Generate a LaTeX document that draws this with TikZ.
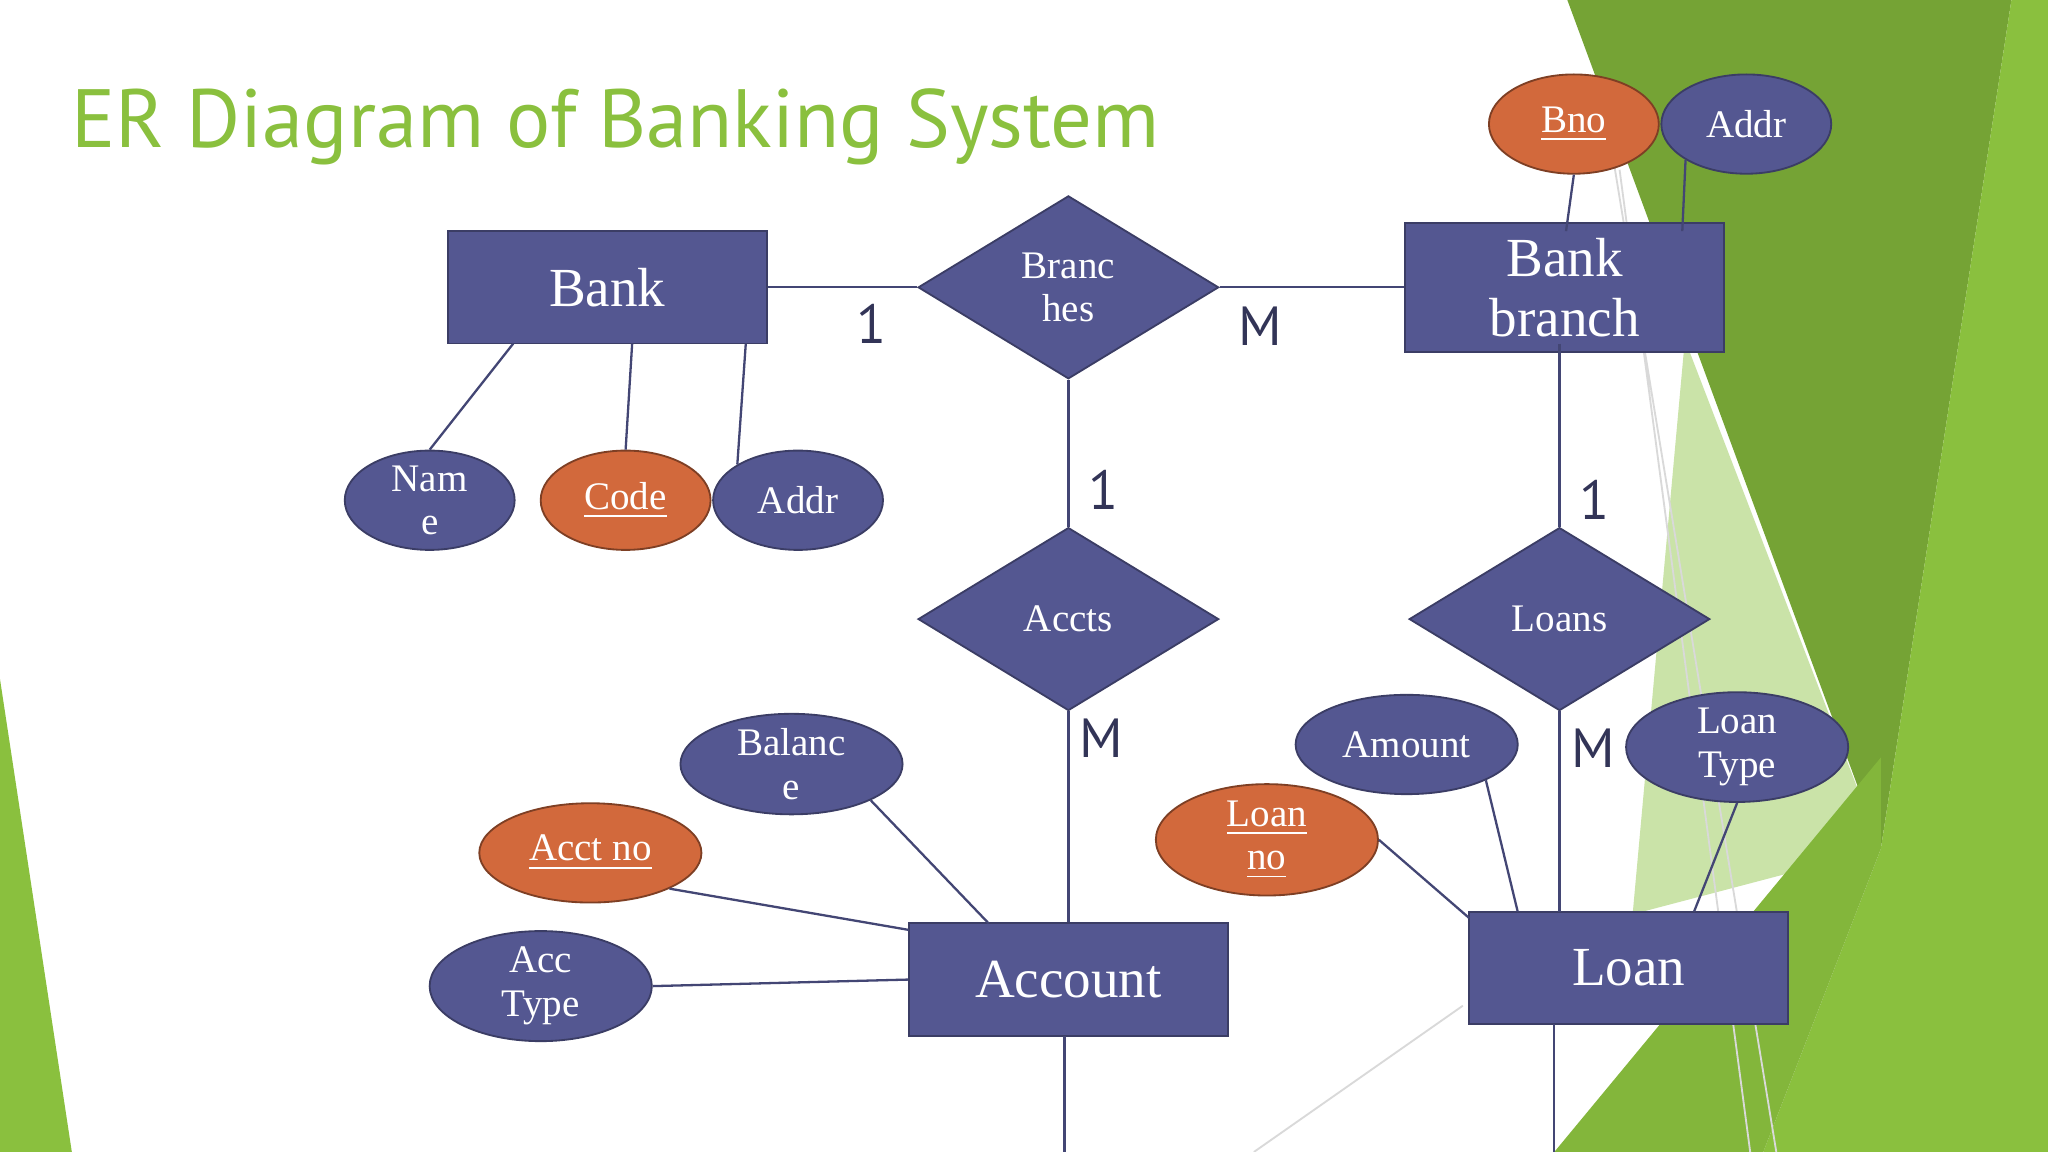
\documentclass[tikz,border=0pt]{standalone}
\usepackage{fontspec}
\setmainfont{Liberation Serif}
\newfontfamily\sansf{PT Sans}
\usetikzlibrary{shapes.geometric}
\definecolor{ent}{HTML}{545791}
\definecolor{key}{HTML}{D2693C}
\definecolor{ttl}{HTML}{8AC03E}
\begin{document}
\begin{tikzpicture}[x=0.01cm,y=-0.01cm,
 ent/.style={rectangle,fill=ent,draw=ent!70!black,minimum width=2.44cm,minimum height=0.86cm,text=white,font=\fontsize{12}{13}\selectfont,align=center},
 rel/.style={diamond,fill=ent,draw=ent!70!black,minimum width=2.3cm,minimum height=1.4cm,inner sep=0pt,aspect=1.64,text=white,font=\fontsize{8.5}{9.5}\selectfont,align=center},
 att/.style={ellipse,fill=ent,draw=ent!70!black,minimum width=1.3cm,minimum height=0.76cm,inner sep=0pt,text=white,font=\fontsize{8.5}{9.5}\selectfont,align=center},
 wide/.style={minimum width=1.7cm},
 keyatt/.style={att,fill=key,draw=key!60!black},
 card/.style={font=\sansf\fontsize{12}{12}\selectfont,text=ent!60!black},
 ln/.style={draw=ent!80!black,line width=0.5pt}]
\useasboundingbox (0,0) rectangle (1568,882);
\fill[white] (0,0) rectangle (1568,882);
% background
\fill[ttl!85!black] (1200,0)--(1540,0)--(1440,650)--cycle;
\fill[ttl] (1540,0)--(1568,0)--(1568,882)--(1350,882)--(1440,650)--cycle;
\fill[ttl!45] (1290,260)--(1440,650)--(1250,700)--cycle;
\fill[ttl!95!black] (1190,882)--(1440,580)--(1440,650)--(1350,882)--cycle;
\fill[ttl] (0,520)--(55,882)--(0,882)--cycle;
\draw[gray!30] (1225,60)--(1360,882) (1240,130)--(1340,882) (1120,770)--(960,882);
% title
\node[anchor=base west,font=\sansf\fontsize{18}{18}\selectfont,text=ttl] (title) at (42,113) {ER Diagram of Banking System};
% nodes
\node[ent] (bank) at (465,220) {Bank};
\node[rel] (br) at (818,220) {Branc\\hes};
\node[ent] (bb) at (1198,220) {Bank\\branch};
\node[keyatt] (bno) at (1205,95) {\underline{Bno}};
\node[att] (baddr) at (1337,95) {Addr};
\node[att] (nam) at (329,383) {Nam\\e};
\node[keyatt] (code) at (479,383) {\underline{Code}};
\node[att] (addr) at (611,383) {Addr};
\node[rel] (accts) at (818,474) {Accts};
\node[rel] (loans) at (1194,474) {Loans};
\node[att,wide] (bal) at (606,585) {Balanc\\e};
\node[keyatt,wide] (acno) at (452,653) {\underline{Acct no}};
\node[att,wide] (acty) at (414,755) {Acc\\Type};
\node[ent] (acc) at (818,750) {Account};
\node[att,wide] (amt) at (1077,570) {Amount};
\node[keyatt,wide] (lno) at (970,643) {\underline{Loan}\\\underline{no}};
\node[att,wide] (lty) at (1330,572) {Loan\\Type};
\node[ent] (loan) at (1247,741) {Loan};
\coordinate (e1) at (815,882);
\coordinate (e2) at (1190,882);
% connectors
\draw[ln] (bank.east)--(br.west);
\draw[ln] (br.east)--(bb.west);
\draw[ln] (br.south)--(accts.north);
\draw[ln] (1194,263)--(loans.north);
\draw[ln] (accts.south)--(acc.north);
\draw[ln] (loans.south)--(1194,698);
\draw[ln] (393,263)--(nam.north);
\draw[ln] (484,263)--(code.north);
\draw[ln] (571,263)--(addr.north west);
\draw[ln] (bno.south)--(1199,177);
\draw[ln] (baddr.south west)--(1288,177);
\draw[ln] (bal.south east)--(757,707);
\draw[ln] (acno.south east)--(696,712);
\draw[ln] (acty.east)--(acc.west);
\draw[ln] (amt.south east)--(1162,698);
\draw[ln] (lno.east)--(1125,703);
\draw[ln] (lty.south)--(1297,698);
\draw[ln] (815,793)--(e1);
\draw[ln] (1190,784)--(e2);
% cardinalities
\node[card] (c1) at (667,248) {1};
\node[card] (c2) at (965,250) {M};
\node[card] (c3) at (845,375) {1};
\node[card] (c4) at (1221,383) {1};
\node[card] (c5) at (843,565) {M};
\node[card] (c6) at (1220,573) {M};
\end{tikzpicture}
\end{document}
